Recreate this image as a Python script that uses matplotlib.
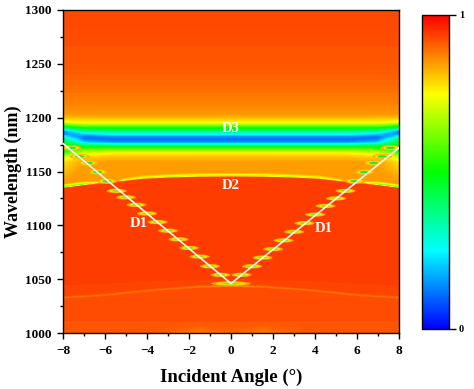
import matplotlib
matplotlib.use('Agg')
import matplotlib.pyplot as plt
import numpy as np
from matplotlib.cm import ScalarMappable
from matplotlib.colors import LinearSegmentedColormap, Normalize
from matplotlib.patches import Ellipse

plt.rcParams['font.family'] = ['Liberation Serif', 'DejaVu Serif']
plt.rcParams['font.weight'] = 'bold'

# columns of the map (right half, left half is the mirror)
col_angles = [0, 1.5, 3, 4.2, 5.2, 5.6, 7, 8]

# features that move with angle
low_wl = [1044, 1043, 1041, 1039, 1037, 1036, 1034, 1033]
low_val = [0.80, 0.86, 0.87, 0.87, 0.87, 0.87, 0.87, 0.87]
bottom_val = [0.90, 0.88, 0.90, 0.92, 0.92, 0.92, 0.92, 0.92]
d2_wl = [1146, 1145.8, 1145, 1143.8, 1141.5, 1140.5, 1138, 1135.5]
d2_val = [0.62, 0.62, 0.63, 0.64, 0.68, 0.85, 0.55, 0.52]
d2_glow = [0.74, 0.74, 0.75, 0.76, 0.80, 0.86, 0.70, 0.68]

# D3 band, fixed wavelength rows
band_wl = [1152, 1158, 1163, 1167, 1170, 1172.5, 1175, 1177, 1180, 1183,
           1185, 1188, 1191, 1194, 1196, 1200, 1204, 1216, 1230, 1250, 1300]
band_mid = [0.85, 0.85, 0.81, 0.75, 0.62, 0.50, 0.28, 0.15, 0.10, 0.15,
            0.26, 0.38, 0.50, 0.66, 0.75, 0.81, 0.85, 0.875, 0.895, 0.915, 0.93]
band_7 = [0.85, 0.84, 0.79, 0.70, 0.60, 0.50, 0.35, 0.20, 0.12, 0.12,
          0.20, 0.35, 0.50, 0.66, 0.75, 0.81, 0.85, 0.875, 0.895, 0.915, 0.93]
band_8 = [0.80, 0.78, 0.70, 0.56, 0.50, 0.50, 0.48, 0.45, 0.38, 0.22,
          0.13, 0.15, 0.40, 0.60, 0.72, 0.81, 0.85, 0.875, 0.895, 0.915, 0.93]

# D1 guide line and the dips along it
v_angles = [-8, 0, 8]
v_wl = [1176, 1046, 1172]
dip_angles = [-7.6, -7.2, -6.8, -6.35, -5.9, -5.45, -5, -4.5, -4, -3.5, -3, -2.5, -2, -1.5, -1, -0.5, 0,
              0.5, 1, 1.5, 2, 2.5, 3, 3.5, 4, 4.5, 5, 5.45, 5.9, 6.35, 6.8, 7.2, 7.6]
dip_wl = [1172, 1164, 1158, 1149.5, 1141, 1132, 1126, 1119, 1111, 1103, 1095, 1087, 1079, 1071, 1062, 1054, 1046,
          1054, 1062, 1070, 1078, 1086, 1094, 1102, 1110, 1118, 1125, 1132, 1141, 1149.5, 1158, 1164, 1172]

x_ticks = [-8, -6, -4, -2, 0, 2, 4, 6, 8]
y_ticks = [1000, 1050, 1100, 1150, 1200, 1250, 1300]

# build the curved grid for the right half
n = len(col_angles)
rows_wl = [np.full(n, 1000.0), np.full(n, 1012.0), np.full(n, 1025.0),
           np.array(low_wl) - 2.0, np.array(low_wl, float), np.array(low_wl) + 2.0,
           np.full(n, 1055.0),
           np.array(d2_wl) - 1.5, np.array(d2_wl, float), np.array(d2_wl) + 1.5, np.array(d2_wl) + 3.5]
rows_val = [np.array(bottom_val), np.full(n, 0.92), np.full(n, 0.925),
            np.full(n, 0.925), np.array(low_val), np.full(n, 0.93),
            np.full(n, 0.94),
            np.full(n, 0.94), np.array(d2_val), np.array(d2_glow), np.full(n, 0.85)]
for i in range(len(band_wl)):
    rows_wl.append(np.full(n, float(band_wl[i])))
    rows_val.append(np.array([band_mid[i]] * 6 + [band_7[i], band_8[i]]))
Y_half = np.array(rows_wl)
Z_half = np.array(rows_val)
X_half = np.tile(col_angles, (len(rows_wl), 1))

# mirror to the left
X = np.hstack([-X_half[:, :0:-1], X_half])
Y = np.hstack([Y_half[:, :0:-1], Y_half])
Z = np.hstack([Z_half[:, :0:-1], Z_half])

cmap = LinearSegmentedColormap.from_list('rainbow2', ['#0000ff', '#00ffff', '#00ff00', '#ffff00', '#ff0000'])
norm = Normalize(0, 1)

fig = plt.figure(figsize=(4.74, 3.89), dpi=100)
ax = fig.add_axes([63 / 474, 1 - 333 / 389, 336 / 474, 323 / 389])
ax.contourf(X, Y, Z, levels=np.linspace(0, 1, 201), cmap=cmap, norm=norm)

# dips on the D1 line, greener and taller above D2
for a, w in zip(dip_angles, dip_wl):
    big = 2.0 if a == 0 else 1.0
    up = abs(a) > 5.7
    core = '#30e040' if up else '#90e020'
    h = 5.0 if up else 4.0
    ax.add_patch(Ellipse((a, w), 0.95 * big, h, color='#ffb000', lw=0, zorder=2))
    ax.add_patch(Ellipse((a, w), 0.7 * big, h * 0.7, color='#f0e800', lw=0, zorder=2))
    ax.add_patch(Ellipse((a, w), 0.45 * big, h * 0.45, color=core, lw=0, zorder=2))
ax.plot(v_angles, v_wl, color='#fff8e8', lw=1.2, zorder=3)

ax.text(0, 1190, 'D3', color='white', fontsize=10.5, ha='center', va='center')
ax.text(0, 1137, 'D2', color='white', fontsize=10.5, ha='center', va='center')
ax.text(-4.4, 1102, 'D1', color='white', fontsize=10.5, ha='center', va='center')
ax.text(4.4, 1097, 'D1', color='white', fontsize=10.5, ha='center', va='center')

ax.set_xlim(-8, 8)
ax.set_ylim(1000, 1300)
ax.set_xticks(x_ticks)
ax.set_yticks(y_ticks)
ax.set_xticks(np.arange(-7, 8, 2), minor=True)
ax.set_yticks(np.arange(1025, 1300, 50), minor=True)
ax.tick_params(which='major', length=4.3, width=1, labelsize=9.5, pad=4)
ax.tick_params(which='minor', length=2.2, width=1)
for s in ax.spines.values():
    s.set_linewidth(1)
ax.set_xlabel('Incident Angle (°)', fontsize=13.5, fontweight='bold', labelpad=9)
ax.set_ylabel('Wavelength (nm)', fontsize=13, fontweight='bold', labelpad=2)

# colour bar
cax = fig.add_axes([422 / 474, 1 - 329 / 389, 27 / 474, 314 / 389])
cb = fig.colorbar(ScalarMappable(norm=norm, cmap=cmap), cax=cax, ticks=[0, 1])
cb.ax.set_yticklabels(['0', '1'])
cb.ax.tick_params(length=5, width=1, labelsize=7.5, pad=2)
cb.outline.set_linewidth(1)

plt.savefig('out.png', dpi=100)
